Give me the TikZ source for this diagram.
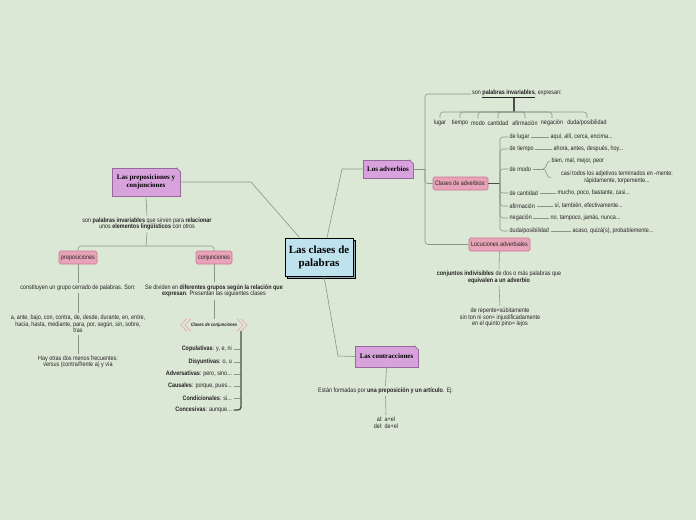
\documentclass[tikz,border=0pt]{standalone}
\usepackage{fontspec}
\setmainfont{Liberation Sans}[FakeStretch=0.85]
\newfontfamily\titlefont{Liberation Serif}
\usetikzlibrary{shadows}
\definecolor{bgc}{RGB}{220,232,214}
\definecolor{linec}{RGB}{135,150,135}
\definecolor{darkc}{RGB}{75,78,75}
\definecolor{textc}{RGB}{35,35,35}
\definecolor{topicf}{RGB}{216,162,220}
\definecolor{topicd}{RGB}{150,105,155}
\definecolor{subf}{RGB}{232,163,184}
\definecolor{subd}{RGB}{200,120,148}
\definecolor{cenf}{RGB}{190,227,238}
\newcommand\dogearcut[1]{%
  \fill[bgc] ([xshift=-4pt,yshift=0.6pt]#1.north east) -- ([xshift=0.6pt,yshift=0.6pt]#1.north east) -- ([xshift=0.6pt,yshift=-4pt]#1.north east) -- cycle;
  \draw[topicd, line width=0.6pt] ([xshift=-4pt]#1.north east) -- ([yshift=-4pt]#1.north east);}
\begin{document}
\begin{tikzpicture}[x=1pt,y=-1pt,
  conn/.style={draw=linec, line width=0.6pt, rounded corners=3pt},
  dconn/.style={draw=darkc, line width=1.3pt, rounded corners=3pt},
  txt/.style={font=\fontsize{6.4}{6.6}\selectfont, align=center, inner sep=2pt, text=textc},
  itm/.style={font=\fontsize{6.4}{6.6}\selectfont, inner sep=1.5pt, text=textc},
  topic/.style={rectangle, fill=topicf, draw=topicd, line width=0.6pt,
    font=\titlefont\bfseries\fontsize{7}{8.5}\selectfont, align=center, inner sep=0pt},
  subnode/.style={rectangle, rounded corners=1.5pt, fill=subf, draw=subd, line width=0.6pt,
    font=\fontsize{6.4}{7}\selectfont, inner sep=0pt, minimum height=13pt, text=textc},
  central/.style={rectangle, fill=cenf, draw=black, line width=0.8pt,
    general shadow={fill=cenf!75!black, draw=black, shadow xshift=2.5pt, shadow yshift=-2.5pt},
    minimum width=68pt, minimum height=38pt, align=center,
    font=\titlefont\bfseries\fontsize{11}{13}\selectfont},
  chev/.style={draw=subf, line width=0.6pt}
]
\fill[bgc] (0,0) rectangle (696,520);
\useasboundingbox (0,0) rectangle (696,520);

% ---------- central ----------
\node[central] (cen) at (319,257) {Las clases de\\palabras};

% ---------- topics ----------
\node[topic, minimum width=68pt, minimum height=28pt] (pc) at (146,182) {Las preposiciones y\\conjunciones};
\dogearcut{pc}
\node[topic, minimum width=50pt, minimum height=18pt] (ladv) at (388,169) {Los adverbios};
\dogearcut{ladv}
\node[topic, minimum width=63pt, minimum height=21pt] (lcon) at (386.5,356.5) {Las contracciones};
\dogearcut{lcon}

\coordinate (c1) at (251,182);
\coordinate (c2) at (342,169);
\coordinate (c3) at (338,356);
\draw[conn, rounded corners=0pt] (pc.east) -- (c1) -- ([xshift=15pt]cen.north west);
\draw[conn, rounded corners=0pt] ([xshift=8pt]cen.north) -- (c2) -- (ladv.west);
\draw[conn, rounded corners=0pt] ([xshift=5pt]cen.south) -- (c3) -- (lcon.west);

% ---------- preposiciones y conjunciones ----------
\node[txt] (t1) at (147,224) {son \textbf{palabras invariables} que sirven para \textbf{relacionar}\\ unos \textbf{elementos lingüísticos} con otros};
\coordinate (jpc) at (146,246);
\draw[conn] (pc.south) -- (t1.north);
\draw[conn] (t1.south) -- (jpc);
\node[subnode, minimum width=38pt] (prep) at (78,257.5) {preposiciones};
\node[subnode, minimum width=36pt] (conj) at (214,257.5) {conjunciones};
\draw[conn] (jpc) -| (prep.north);
\draw[conn] (jpc) -| (conj.north);

\node[txt] (t2) at (78,288) {constituyen un grupo cerrado de palabras. Son:};
\node[txt] (t3) at (78,324) {a, ante, bajo, con, contra, de, desde, durante, en, entre,\\ hacia, hasta, mediante, para, por, según, sin, sobre,\\ tras};
\node[txt] (t4) at (78,362) {Hay otras dos menos frecuentes:\\ versus (contra/frente a) y vía};
\draw[conn] (prep.south) -- (t2.north);
\draw[conn] (t2.south) -- (t3.north);
\draw[conn] (t3.south) -- (t4.north);

\node[txt] (t5) at (214,291) {Se dividen en \textbf{diferentes grupos según la relación que}\\ \textbf{expresan}. Presentan las siguientes clases};
\draw[conn] (conj.south) -- (t5.north);
\node[inner sep=0pt, minimum width=66pt, minimum height=12pt, text=textc,
  font=\fontsize{4.8}{5}\selectfont\bfseries\itshape] (clconj) at (214,325) {Clases de conjunciones};
\draw[conn] (t5.south) -- (clconj.north);
\draw[chev] ([xshift=10pt]clconj.north west) -- ([xshift=4pt]clconj.west) -- ([xshift=10pt]clconj.south west);
\draw[chev] ([xshift=6pt]clconj.north west) -- (clconj.west) -- ([xshift=6pt]clconj.south west);
\draw[chev] ([xshift=-10pt]clconj.north east) -- ([xshift=-4pt]clconj.east) -- ([xshift=-10pt]clconj.south east);
\draw[chev] ([xshift=-6pt]clconj.north east) -- (clconj.east) -- ([xshift=-6pt]clconj.south east);
\coordinate (ccv) at (241,331);

\node[itm, anchor=east] (copu) at (233.5,349) {\textbf{Copulativas}: y, e, ni};
\node[itm, anchor=east] (disy) at (233.5,362) {\textbf{Disyuntivas}: o, u};
\node[itm, anchor=east] (adve) at (233.5,374) {\textbf{Adversativas}: pero, sino...};
\node[itm, anchor=east] (caus) at (233.5,386) {\textbf{Causales}: porque, pues...};
\node[itm, anchor=east] (cond) at (233.5,398) {\textbf{Condicionales}: si...};
\node[itm, anchor=east] (conc) at (233.5,410) {\textbf{Concesivas}: aunque...};
\draw[conn] (copu.east) -- (copu.east -| ccv);
\draw[conn] (disy.east) -- (disy.east -| ccv);
\draw[conn] (adve.east) -- (adve.east -| ccv);
\draw[conn] (caus.east) -- (caus.east -| ccv);
\draw[conn] (cond.east) -- (cond.east -| ccv);
\draw[dconn] (ccv) |- (conc.east);

% ---------- contracciones ----------
\node[txt] (t8) at (385.5,391) {Están formadas por \textbf{una preposición y un artículo}. Ej:};
\node[txt] (t9) at (386,423) {al: a+el\\ del: de+el};
\draw[conn] (lcon.south) -- (t8.north);
\draw[conn] (t8.south) -- (t9.north);

% ---------- adverbios ----------
\coordinate (ja) at (425,169);
\draw[conn] (ladv.east) -- (ja);
\node[txt, anchor=west, inner sep=1pt] (sonpi) at (471,94) {son \underline{\textbf{palabras invariables}}, expresan:};
\node[subnode, minimum width=55pt] (cladv) at (460.5,183.5) {Clases de adverbios:};
\node[subnode, minimum width=61pt] (locadv) at (499.5,244.5) {Locuciones adverbiales};
\draw[conn] (ja) |- (sonpi.west);
\draw[conn] (ja) |- (cladv.west);
\draw[conn] (ja) |- (locadv.west);

% top list
\coordinate (jpt) at (514,98);
\coordinate (jpb) at (514,112);
\draw[dconn, rounded corners=0pt] (jpt) -- (jpb);
\node[itm, inner sep=1pt] (ilug) at (440,123) {lugar};
\node[itm, inner sep=1pt] (itie) at (460,123) {tiempo};
\node[itm, inner sep=1pt] (imod) at (478,123) {modo};
\node[itm, inner sep=1pt] (ican) at (498,123) {cantidad};
\node[itm, inner sep=1pt] (iafi) at (525,123) {afirmación};
\node[itm, inner sep=1pt] (ineg) at (552,123) {negación};
\node[itm, inner sep=1pt] (idud) at (587,123) {duda/posibilidad};
\foreach \n in {ilug,itie,imod,ican,iafi,ineg,idud}{
  \draw[conn] (jpb) -| ([yshift=1pt]\n.north);
}

% clases de adverbios
\coordinate (jca) at (500,183.5);
\draw[dconn, rounded corners=0pt] (cladv.east) -- (jca);
\node[itm, anchor=west] (dlug) at (508,137) {de lugar};
\node[itm, anchor=west] (dtie) at (508,149) {de tiempo};
\node[itm, anchor=west] (dmod) at (508,169) {de modo};
\node[itm, anchor=west] (dcan) at (508,193) {de cantidad};
\node[itm, anchor=west] (dafi) at (508,206) {afirmación};
\node[itm, anchor=west] (dneg) at (508,218) {negación};
\node[itm, anchor=west] (ddud) at (508,231) {duda/posibilidad};
\foreach \n in {dlug,dtie,dmod,dcan,dafi,dneg,ddud}{
  \draw[conn] (jca) |- (\n.west);
}
\node[itm, anchor=west] (elug) at (549,137) {aquí, allí, cerca, encima...};
\node[itm, anchor=west] (etie) at (552,149) {ahora, antes, después, hoy...};
\node[itm, anchor=west] (ecan) at (556,193) {mucho, poco, bastante, casi...};
\node[itm, anchor=west] (eafi) at (553,206) {sí, también, efectivamente...};
\node[itm, anchor=west] (eneg) at (549,218) {no, tampoco, jamás, nunca...};
\node[itm, anchor=west] (edud) at (571,231) {acaso, quizá(s), probablemente...};
\draw[conn] (dlug.east) -- (elug.west);
\draw[conn] (dtie.east) -- (etie.west);
\draw[conn] (dcan.east) -- (ecan.west);
\draw[conn] (dafi.east) -- (eafi.west);
\draw[conn] (dneg.east) -- (eneg.west);
\draw[conn] (ddud.east) -- (edud.west);

\node[itm, anchor=west] (ebien) at (550,161) {bien, mal, mejor, peor};
\node[itm, align=center] (ecasi) at (617,177.5) {casi todos los adjetivos terminados en -mente:\\ rápidamente, torpemente...};
\coordinate (jmod) at (543,169);
\draw[conn] (dmod.east) -- (jmod);
\draw[conn] (jmod) .. controls (547,169) and (546,161) .. (ebien.west);
\draw[conn] (jmod) .. controls (547,169) and (546,178) .. (551,178);

% locuciones
\node[txt] (t6) at (499,277.5) {\textbf{conjuntos indivisibles} de dos o más palabras que\\ \textbf{equivalen a un adverbio}};
\node[txt] (t7) at (500,317.5) {de repente=súbitamente\\ sin ton ni son= injustificadamente\\ en el quinto pino= lejos};
\draw[conn] (locadv.south) -- (t6.north);
\draw[conn] (t6.south) -- (t7.north);
\end{tikzpicture}
\end{document}
